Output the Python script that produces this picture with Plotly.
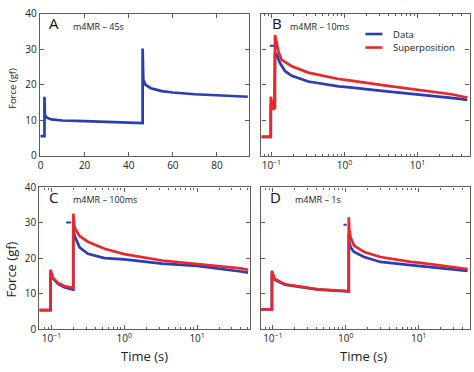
import plotly.graph_objects as go

# ---------------- data ----------------
# Panel A : m4MR - 45s (linear time axis)
A_time = [0, 1.8, 1.8, 2.0, 2.5, 3.5, 5, 10, 20, 30, 40, 46.3, 46.3, 46.6, 47.5, 50, 55, 60, 70, 80, 94]
A_data = [5.5, 5.5, 16.6, 11.5, 10.9, 10.5, 10.2, 9.9, 9.7, 9.5, 9.4, 9.2, 30.2, 21.5, 20.0, 19.0, 18.2, 17.8, 17.3, 17.0, 16.6]

# Panel B : m4MR - 10ms (log time axis)
B_time_data = [0.073, 0.098, 0.098, 0.102, 0.106, 0.110, 0.112, 0.118, 0.131, 0.154, 0.19, 0.32, 0.83, 1.1, 3.5, 10, 29, 48]
B_data = [5.3, 5.3, 14.0, 14.5, 13.4, 14.0, 29.0, 28.5, 26.1, 23.8, 22.5, 20.9, 19.5, 19.3, 18.2, 17.3, 16.3, 15.7]
B_time_sup = [0.073, 0.098, 0.098, 0.101, 0.106, 0.112, 0.112, 0.125, 0.138, 0.19, 0.32, 0.83, 1.1, 3.5, 10, 29, 48]
B_sup = [5.3, 5.3, 16.6, 15.0, 13.0, 13.5, 34.0, 29.3, 27.0, 25.2, 23.4, 21.6, 21.3, 19.8, 18.6, 17.3, 16.4]
B_dash_time = [0.095, 0.109]
B_dash = [31.0, 31.0]

# Panel C : m4MR - 100ms
C_time = [0.068, 0.097, 0.097, 0.105, 0.123, 0.15, 0.187, 0.199, 0.199, 0.208, 0.243, 0.316, 0.535, 1.0, 3.3, 10, 40, 50]
C_data = [5.4, 5.4, 16.0, 14.3, 12.8, 11.9, 11.3, 11.2, 28.5, 26.3, 23.1, 21.3, 20.1, 19.7, 18.5, 17.9, 16.3, 16.0]
C_sup = [5.4, 5.4, 16.8, 14.5, 13.1, 12.2, 11.8, 11.7, 32.6, 28.6, 26.3, 24.7, 22.7, 21.2, 19.4, 18.5, 17.2, 16.8]
C_dash_time = [0.159, 0.187]
C_dash = [30.1, 30.1]

# Panel D : m4MR - 1s
D_time = [0.068, 0.097, 0.097, 0.106, 0.146, 0.247, 0.42, 1.07, 1.1, 1.1, 1.12, 1.17, 1.30, 1.79, 3.0, 7.8, 10, 47]
D_data = [5.6, 5.6, 15.8, 14.0, 12.6, 11.9, 11.2, 10.7, 10.7, 27.0, 24.5, 23.1, 21.8, 20.4, 19.0, 18.1, 17.9, 16.5]
D_sup = [5.6, 5.6, 16.5, 14.2, 12.7, 12.0, 11.3, 10.8, 10.8, 31.6, 28.0, 25.8, 23.6, 21.8, 20.4, 19.0, 18.8, 17.0]
D_dash_time = [0.93, 1.03]
D_dash = [29.5, 29.5]

panel_letters = ["A", "B", "C", "D"]
panel_titles = ["m4MR – 45s", "m4MR – 10ms", "m4MR – 100ms", "m4MR – 1s"]
series_names = ["Data", "Superposition"]
lin_ticks = [0, 20, 40, 60, 80]
log_ticks = [0.1, 1, 10]
log_ticktext = ["10<sup>−1</sup>", "10<sup>0</sup>", "10<sup>1</sup>"]
y_ticks = [0, 10, 20, 30, 40]

# ---------------- styling ----------------
W, H = 474, 372
BLUE = "#2b3cb4"
RED = "#e8282b"
FRAME = "#6b5753"
TXT = "#222222"
FONT = "Open Sans"
LW = 2.7

def px_x(a, b):
    return [a / W, b / W]

def px_y(top, bottom):
    return [1 - bottom / H, 1 - top / H]

minor_vals = [k * 10 ** e for e in (-2, -1, 0, 1) for k in range(2, 10)]

fig = go.Figure()

# Panel A
fig.add_trace(go.Scatter(x=A_time, y=A_data, mode="lines", line=dict(color=BLUE, width=LW),
                         showlegend=False, xaxis="x", yaxis="y"))
# Panel B
fig.add_trace(go.Scatter(x=B_time_data, y=B_data, mode="lines", line=dict(color=BLUE, width=LW),
                         name=series_names[0], showlegend=False, xaxis="x2", yaxis="y2"))
fig.add_trace(go.Scatter(x=B_dash_time, y=B_dash, mode="lines", line=dict(color=BLUE, width=2),
                         showlegend=False, xaxis="x2", yaxis="y2"))
fig.add_trace(go.Scatter(x=B_time_sup, y=B_sup, mode="lines", line=dict(color=RED, width=LW),
                         name=series_names[1], showlegend=False, xaxis="x2", yaxis="y2"))
# Panel C
fig.add_trace(go.Scatter(x=C_time, y=C_data, mode="lines", line=dict(color=BLUE, width=LW),
                         showlegend=False, xaxis="x3", yaxis="y3"))
fig.add_trace(go.Scatter(x=C_dash_time, y=C_dash, mode="lines", line=dict(color=BLUE, width=2),
                         showlegend=False, xaxis="x3", yaxis="y3"))
fig.add_trace(go.Scatter(x=C_time, y=C_sup, mode="lines", line=dict(color=RED, width=LW),
                         showlegend=False, xaxis="x3", yaxis="y3"))
# Panel D
fig.add_trace(go.Scatter(x=D_time, y=D_data, mode="lines", line=dict(color=BLUE, width=LW),
                         showlegend=False, xaxis="x4", yaxis="y4"))
fig.add_trace(go.Scatter(x=D_dash_time, y=D_dash, mode="lines", line=dict(color=BLUE, width=2),
                         showlegend=False, xaxis="x4", yaxis="y4"))
fig.add_trace(go.Scatter(x=D_time, y=D_sup, mode="lines", line=dict(color=RED, width=LW),
                         showlegend=False, xaxis="x4", yaxis="y4"))

common = dict(showline=True, linecolor=FRAME, linewidth=1.2, mirror="allticks",
              ticks="inside", ticklen=4, tickcolor=FRAME, showgrid=False, zeroline=False,
              tickfont=dict(family=FONT, size=10, color=TXT))

def log_axis(rng, dom, anchor):
    return dict(type="log", range=rng, domain=dom, anchor=anchor,
                tickmode="array", tickvals=log_ticks, ticktext=log_ticktext,
                minor=dict(tickmode="array", tickvals=minor_vals, ticks="inside",
                           ticklen=2, tickcolor=FRAME, showgrid=False),
                **common)

def y_axis(dom, anchor, labels):
    return dict(range=[0, 40], domain=dom, anchor=anchor, tickmode="array",
                tickvals=y_ticks, showticklabels=labels, **common)

top = px_y(7, 154)
bot = px_y(187, 334)

fig.update_layout(
    width=W, height=H, autosize=False,
    margin=dict(l=0, r=0, t=0, b=0),
    paper_bgcolor="white", plot_bgcolor="white",
    font=dict(family=FONT, color=TXT),
    showlegend=False,
    xaxis=dict(range=[-0.3, 94.5], domain=px_x(38, 248), anchor="y",
               tickmode="array", tickvals=lin_ticks, **common),
    yaxis=y_axis(top, "x", True),
    xaxis2=log_axis([-1.137, 1.712], px_x(260.5, 469.5), "y2"),
    yaxis2=y_axis(top, "x2", False),
    xaxis3=log_axis([-1.167, 1.726], px_x(37.5, 249), "y3"),
    yaxis3=y_axis(bot, "x3", True),
    xaxis4=log_axis([-1.164, 1.705], px_x(260, 470), "y4"),
    yaxis4=y_axis(bot, "x4", False),
)

annotations = []
letter_pos = [(52, 17), (276, 17), (52, 197), (275, 197)]
title_pos = [(69, 20), (287, 20), (69, 199), (292, 199)]
for i in range(4):
    lx, ly = letter_pos[i]
    tx, ty = title_pos[i]
    annotations.append(dict(text=panel_letters[i], x=lx / W, y=1 - ly / H, xref="paper", yref="paper",
                            showarrow=False, xanchor="center", yanchor="middle",
                            font=dict(family=FONT, size=15, color="#111")))
    annotations.append(dict(text=panel_titles[i], x=tx / W, y=1 - ty / H, xref="paper", yref="paper",
                            showarrow=False, xanchor="left", yanchor="middle",
                            font=dict(family=FONT, size=9, color="#222")))
# axis titles
annotations.append(dict(text="Force (gf)", x=10 / W, y=1 - 84 / H, xref="paper", yref="paper",
                        showarrow=False, textangle=-90, xanchor="center", yanchor="middle",
                        font=dict(family=FONT, size=9.5, color=TXT)))
annotations.append(dict(text="Force (gf)", x=10 / W, y=1 - 272 / H, xref="paper", yref="paper",
                        showarrow=False, textangle=-90, xanchor="center", yanchor="middle",
                        font=dict(family=FONT, size=13, color=TXT)))
annotations.append(dict(text="Time (s)", x=143 / W, y=1 - 362 / H, xref="paper", yref="paper",
                        showarrow=False, xanchor="center", yanchor="middle",
                        font=dict(family=FONT, size=13, color=TXT)))
annotations.append(dict(text="Time (s)", x=363 / W, y=1 - 362 / H, xref="paper", yref="paper",
                        showarrow=False, xanchor="center", yanchor="middle",
                        font=dict(family=FONT, size=13, color=TXT)))

# legend (panel B): line samples + labels
legend_colors = [BLUE, RED]
legend_rows = [28, 42]
shapes = []
for name, col, yy in zip(series_names, legend_colors, legend_rows):
    shapes.append(dict(type="line", xref="paper", yref="paper", x0=365 / W, x1=382 / W,
                       y0=1 - yy / H, y1=1 - yy / H, line=dict(color=col, width=2.6)))
    annotations.append(dict(text=name, x=391 / W, y=1 - yy / H, xref="paper", yref="paper",
                            showarrow=False, xanchor="left", yanchor="middle",
                            font=dict(family=FONT, size=9.5, color=TXT)))
fig.update_layout(annotations=annotations, shapes=shapes)

fig.write_html("out.html", config={"displayModeBar": False},
               post_script="document.body.style.margin='0px';")
